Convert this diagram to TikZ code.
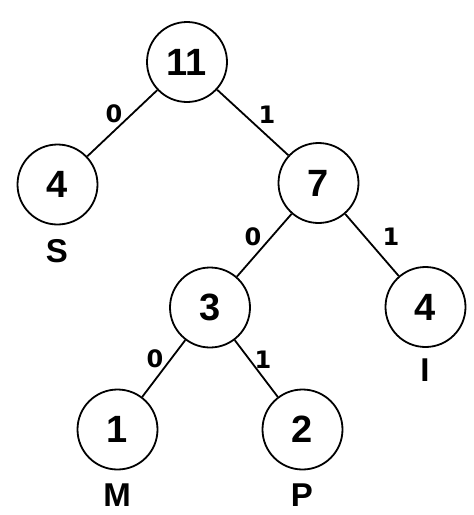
\documentclass[tikz,border=0pt]{standalone}
\usepackage{fontspec}
\setmainfont{Liberation Sans}
\newfontfamily\bitfont{DejaVu Sans}
\begin{document}
\begin{tikzpicture}[x=1pt,y=-1pt,
  tnode/.style={circle,draw,line width=1.8pt,minimum size=80pt,inner sep=0pt,font=\fontsize{38pt}{38pt}\selectfont\bfseries},
  leaf/.style={font=\fontsize{33pt}{33pt}\selectfont\bfseries},
  bit/.style={font=\bitfont\fontsize{24pt}{24pt}\selectfont\bfseries},
  edge/.style={line width=1.8pt}]
\useasboundingbox (0,0) rectangle (474,515);
\node[tnode] (n11) at (187,62) {11};
\node[tnode] (nS) at (57.5,184.5) {4};
\node[tnode] (n7) at (318.5,183) {7};
\node[tnode] (n3) at (210,307.5) {3};
\node[tnode] (nI) at (425.5,307) {4};
\node[tnode] (nM) at (117.5,429.5) {1};
\node[tnode] (nP) at (302.5,429.5) {2};
\node[leaf] (lS) at (57,251) {S};
\node[leaf] (lI) at (425,370) {I};
\node[leaf] (lM) at (117,495) {M};
\node[leaf] (lP) at (302,495) {P};
\draw[edge] (n11) -- (nS);
\draw[edge] (n11) -- (n7);
\draw[edge] (n7) -- (n3);
\draw[edge] (n7) -- (nI);
\draw[edge] (n3) -- (nM);
\draw[edge] (n3) -- (nP);
\node[bit] (b1) at (114,114) {0};
\node[bit] (b2) at (267,115) {1};
\node[bit] (b3) at (253,237) {0};
\node[bit] (b4) at (391,237) {1};
\node[bit] (b5) at (155,359) {0};
\node[bit] (b6) at (263,360) {1};
\end{tikzpicture}
\end{document}
